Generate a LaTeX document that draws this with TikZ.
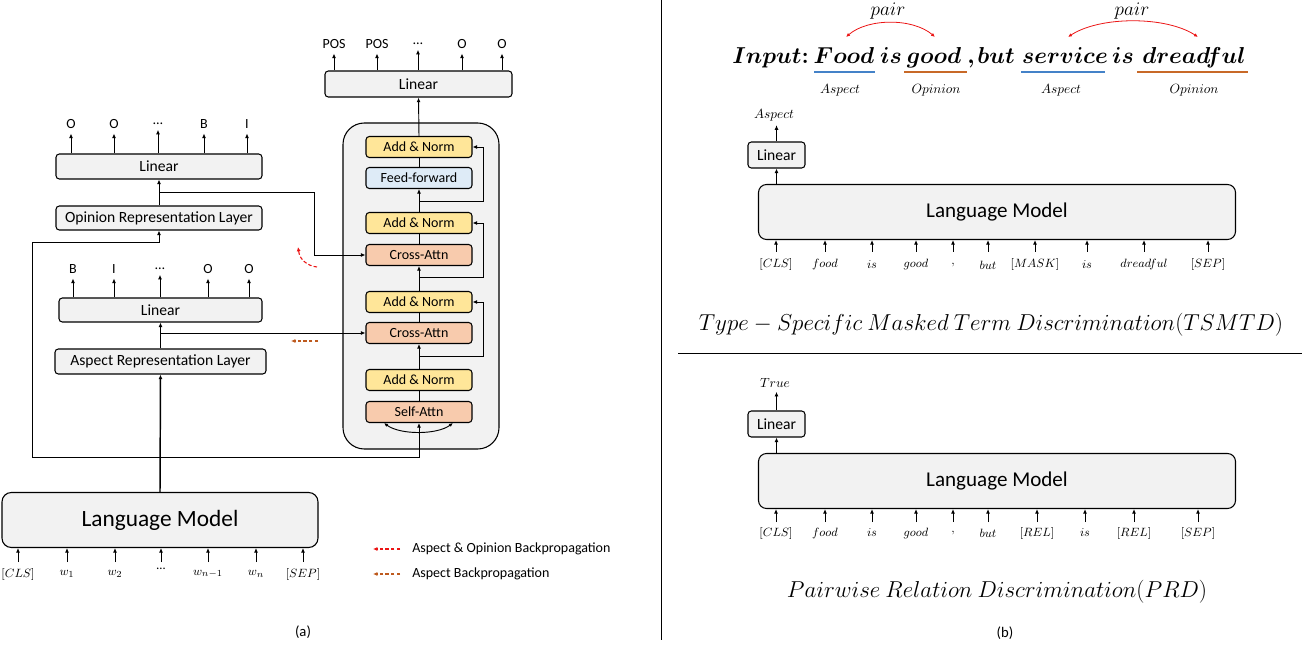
\documentclass[tikz,border=0pt]{standalone}
\usepackage{fontspec}
\setmainfont{Carlito}
\usetikzlibrary{arrows.meta}
\definecolor{boxgray}{RGB}{242,242,242}
\definecolor{addyel}{RGB}{255,230,153}
\definecolor{ffblue}{RGB}{222,235,247}
\definecolor{attpeach}{RGB}{248,203,173}
\definecolor{ulblue}{RGB}{68,130,200}
\definecolor{ulorange}{RGB}{200,105,40}
\definecolor{bpred}{RGB}{235,20,20}
\definecolor{bpbrown}{RGB}{190,90,30}
\begin{document}
\begin{tikzpicture}[x=0.75pt,y=-0.75pt,
  box/.style={draw, line width=0.8pt, rounded corners=2.5pt, fill=boxgray, inner sep=0pt, font=\fontsize{11.7}{13}\selectfont},
  tb/.style={draw, line width=0.8pt, rounded corners=2.5pt, inner sep=0pt, minimum width=79.5pt, minimum height=15.75pt, font=\fontsize{10.5}{12}\selectfont},
  yel/.style={tb, fill=addyel},
  blu/.style={tb, fill=ffblue},
  pch/.style={tb, fill=attpeach},
  arr/.style={-{Latex[length=3.5pt,width=3pt]}, line width=0.7pt},
  bpline/.style={line width=0.8pt, dash pattern=on 2.6pt off 1.6pt},
  bptip/.style={-{Latex[length=3.2pt,width=3pt]}, line width=0.8pt},
  lab/.style={font=\fontsize{10.5}{12}\selectfont, inner sep=0pt},
  tok/.style={font=\fontsize{9.5}{12}\selectfont, inner sep=0pt},
  word/.style={font=\fontsize{16}{19}\selectfont\boldmath, inner sep=0pt, anchor=base},
  small/.style={font=\fontsize{10}{12}\selectfont, inner sep=0pt},
  ul/.style={line width=1.3pt}
]
\useasboundingbox (0,0) rectangle (1304,645);

% ================= (a) =================
\node[draw, line width=0.8pt, rounded corners=16pt, fill=boxgray, minimum width=117pt, minimum height=244.5pt, inner sep=0pt] (cont) at (421,286) {};
\node[yel] (an1) at (419,147) {Add \& Norm};
\node[blu] (ff)  at (419,178) {Feed-forward};
\node[yel] (an2) at (419,223) {Add \& Norm};
\node[pch] (ca1) at (419,255) {Cross-Attn};
\node[yel] (an3) at (419,302) {Add \& Norm};
\node[pch] (ca2) at (419,333) {Cross-Attn};
\node[yel] (an4) at (419,380) {Add \& Norm};
\node[pch] (sa)  at (419,412) {Self-Attn};
\node[box, minimum width=140.25pt, minimum height=19.5pt] (linT) at (418.5,84) {Linear};

% spine
\draw[line width=0.7pt] (sa.north) -- (an4.south);
\draw[arr] (an4.north) -- (ca2.south);
\draw[line width=0.7pt] (ca2.north) -- (an3.south);
\draw[arr] (an3.north) -- (ca1.south);
\draw[line width=0.7pt] (ca1.north) -- (an2.south);
\draw[arr] (an2.north) -- (ff.south);
\draw[line width=0.7pt] (ff.north) -- (an1.south);
\draw[arr] (an1.north) -- (linT.south);
% residuals
\coordinate (r3) at (419,356);
\coordinate (r2) at (419,277);
\coordinate (r1) at (419,201);
\draw[arr] (r3) -- (483,356) |- (an3.east);
\draw[arr] (r2) -- (483,277) |- (an2.east);
\draw[arr] (r1) -- (483,201) |- (an1.east);
% self-attn bow
\draw[{Latex[length=3pt,width=2.6pt]}-{Latex[length=3pt,width=2.6pt]}, line width=0.7pt] (384,423) .. controls (400,435) and (437,435) .. (453,423);

% top outputs
\foreach \x/\t/\n in {334/POS/p1,377/POS/p2,418/…/p3,462/O/p4,502/O/p5}{
  \node[lab] (\n) at (\x,44) {\t};
  \draw[arr, shorten >=3.5pt] (linT.north -| \n) -- (\n.south);
}

% left boxes
\node[box, minimum width=237pt, minimum height=41.25pt, rounded corners=7pt, font=\fontsize{17.5}{20}\selectfont] (lm) at (160,520) {Language Model};
\node[box, minimum width=158.25pt, minimum height=18.75pt] (asp) at (160.5,361.5) {Aspect Representation Layer};
\node[box, minimum width=152.25pt, minimum height=18pt] (linA) at (160.5,310) {Linear};
\node[box, minimum width=154.5pt, minimum height=18pt] (opi) at (159,218) {Opinion Representation Layer};
\node[box, minimum width=154.5pt, minimum height=18.75pt] (linO) at (159,166.5) {Linear};

% label rows
\foreach \x/\t/\n in {71/O/o1,114/O/o2,158/…/o3,204/B/o4,247/I/o5}{
  \node[lab] (\n) at (\x,124) {\t};
  \draw[arr, shorten >=3.5pt] (linO.north -| \n) -- (\n.south);
}
\foreach \x/\t/\n in {73/B/b1,114/I/b2,160/…/b3,208/O/b4,249/O/b5}{
  \node[lab] (\n) at (\x,269) {\t};
  \draw[arr, shorten >=3.5pt] (linA.north -| \n) -- (\n.south);
}

% LM inputs
\foreach \x/\t/\n in {18/{$[CLS]$}/i1,67/{$w_1$}/i2,115/{$w_2$}/i3,208/{$w_{n-1}$}/i5,256/{$w_n$}/i6,303/{$[SEP]$}/i7}{
  \node[tok] (\n) at (\x,574) {\t};
  \draw[arr] (\n |- 0,562) -- (\n |- lm.south);
}
\node[tok] (i4) at (161,569) {…};
\draw[arr] (i4 |- 0,562) -- (i4 |- lm.south);

% connections
\coordinate (split) at (160.5,457);
\draw[-{Latex[length=3.5pt,width=3pt]}, line width=1.1pt] (lm.north) -- (asp.south);
\draw[arr] (asp.north) -- (linA.south);
\draw[arr] (160.5,333) -- (ca2.west);
\draw[arr] (opi.north) -- (linO.south);
\draw[arr] (159,192) -- (314,192) |- (ca1.west);
\draw[arr] (split) -- (32,457) |- (159,242) -- (opi.south);
\draw[arr] (split) -| (sa.south);

% backprop arrows
\coordinate (bp1s) at (317,267); \coordinate (bp1m) at (299,253); \coordinate (bp1e) at (298,247);
\draw[bpline, bpred] (bp1s) .. controls (307,266) and (300,259) .. (bp1m);
\draw[bptip, bpred] (bp1m) -- (bp1e);
\coordinate (bp2s) at (318,341); \coordinate (bp2m) at (296,341); \coordinate (bp2e) at (291,341);
\draw[bpline, bpbrown] (bp2s) -- (bp2m);
\draw[bptip, bpbrown] (bp2m) -- (bp2e);

% legend
\coordinate (lg1) at (400,549); \coordinate (lg1m) at (378,549); \coordinate (lg1e) at (373,549);
\coordinate (lg2) at (400,574); \coordinate (lg2m) at (378,574); \coordinate (lg2e) at (373,574);
\draw[bpline, bpred] (lg1) -- (lg1m);
\draw[bptip, bpred] (lg1m) -- (lg1e);
\draw[bpline, bpbrown] (lg2) -- (lg2m);
\draw[bptip, bpbrown] (lg2m) -- (lg2e);
\node[lab, anchor=west] (lgt1) at (412,549) {Aspect \& Opinion Backpropagation};
\node[lab, anchor=west] (lgt2) at (412,574) {Aspect Backpropagation};

\node[font=\fontsize{11}{13}\selectfont, inner sep=0pt] (capa) at (303,632) {(a)};

% ================= dividers =================
\draw[line width=0.7pt] (661,0) -- (661,640);
\draw[line width=0.7pt] (678,353) -- (1302,353);

% ================= (b) top =================
\node[word, anchor=base east] (wIn) at (809,64) {$Input{:}$};
\node[word] (wFood) at (844,64) {$Food$};
\node[word] (wis1) at (891,64) {$is$};
\node[word] (wgood) at (934,64) {$good$};
\node[word] (wcom) at (971,64) {$,$};
\node[word] (wbut) at (996,64) {$but$};
\node[word] (wserv) at (1065,64) {$service$};
\node[word] (wis2) at (1123,64) {$is$};
\node[word] (wdread) at (1194,64) {$dreadful$};

\draw[ul, ulblue] (814,72) -- (875,72);
\draw[ul, ulorange] (904,72) -- (967,72);
\draw[ul, ulblue] (1021,72) -- (1105,72);
\draw[ul, ulorange] (1137,72) -- (1248,72);

\node[small] (la1) at (840,90) {$Aspect$};
\node[small] (lo1) at (936,90) {$Opinion$};
\node[small] (la2) at (1061,90) {$Aspect$};
\node[small] (lo2) at (1194,90) {$Opinion$};

\node[font=\fontsize{13.5}{15}\selectfont, inner sep=0pt] (pr1) at (888,11) {$pair$};
\node[font=\fontsize{13.5}{15}\selectfont, inner sep=0pt] (pr2) at (1132,11) {$pair$};
\coordinate (pa1) at (846,37); \coordinate (pb1) at (935,37);
\coordinate (pa2) at (1068,37); \coordinate (pb2) at (1198,37);
\draw[{Latex[length=3pt,width=2.6pt]}-{Latex[length=3pt,width=2.6pt]}, bpred, line width=0.6pt] (pa1) .. controls (868,18) and (913,18) .. (pb1);
\draw[{Latex[length=3pt,width=2.6pt]}-{Latex[length=3pt,width=2.6pt]}, bpred, line width=0.6pt] (pa2) .. controls (1100,16) and (1166,16) .. (pb2);

% TSMTD block
\node[box, minimum width=357.75pt, minimum height=41.25pt, rounded corners=6pt, font=\fontsize{15.8}{18}\selectfont] (lmR1) at (997,212) {Language Model};
\node[box, minimum width=42.75pt, minimum height=19.5pt] (linR1) at (776.5,155) {Linear};
\node[small] (oR1) at (774,115) {$Aspect$};
\draw[arr] (lmR1.north -| linR1) -- (linR1.south);
\draw[arr, shorten >=3pt] (linR1.north) -- (oR1.south -| linR1);
\foreach \x/\t/\n in {776/{[CLS]}/s1,825/{food}/s2,872/{is}/s3,916/{good}/s4,953/{,}/s5,988/{but}/s6,1035/{[MASK]}/s7,1087/{is}/s8,1144/{dreadful}/s9,1208/{[SEP]}/s10}{
  \node[tok] (\n) at (\x,265) {$\t$};
  \draw[arr] (\n |- 0,252) -- (\n |- lmR1.south);
}
\node[font=\fontsize{17}{20}\selectfont, inner sep=0pt] (tit1) at (991,325) {$Type - Specific\ Masked\ Term\ Discrimination(TSMTD)$};

% PRD block
\node[box, minimum width=357.75pt, minimum height=41.25pt, rounded corners=6pt, font=\fontsize{15.8}{18}\selectfont] (lmR2) at (997,481) {Language Model};
\node[box, minimum width=42.75pt, minimum height=19.5pt] (linR2) at (776.5,424) {Linear};
\node[small] (oR2) at (775,383) {$True$};
\draw[arr] (lmR2.north -| linR2) -- (linR2.south);
\draw[arr, shorten >=3pt] (linR2.north) -- (oR2.south -| linR2);
\foreach \x/\t/\n in {776/{[CLS]}/q1,825/{food}/q2,872/{is}/q3,916/{good}/q4,953/{,}/q5,988/{but}/q6,1037/{[REL]}/q7,1085/{is}/q8,1134/{[REL]}/q9,1198/{[SEP]}/q10}{
  \node[tok] (\n) at (\x,533) {$\t$};
  \draw[arr] (\n |- 0,522) -- (\n |- lmR2.south);
}
\node[font=\fontsize{17}{20}\selectfont, inner sep=0pt] (tit2) at (997,592) {$Pairwise\ Relation\ Discrimination(PRD)$};

\node[font=\fontsize{11}{13}\selectfont, inner sep=0pt] (capb) at (1005,633) {(b)};
\end{tikzpicture}
\end{document}
